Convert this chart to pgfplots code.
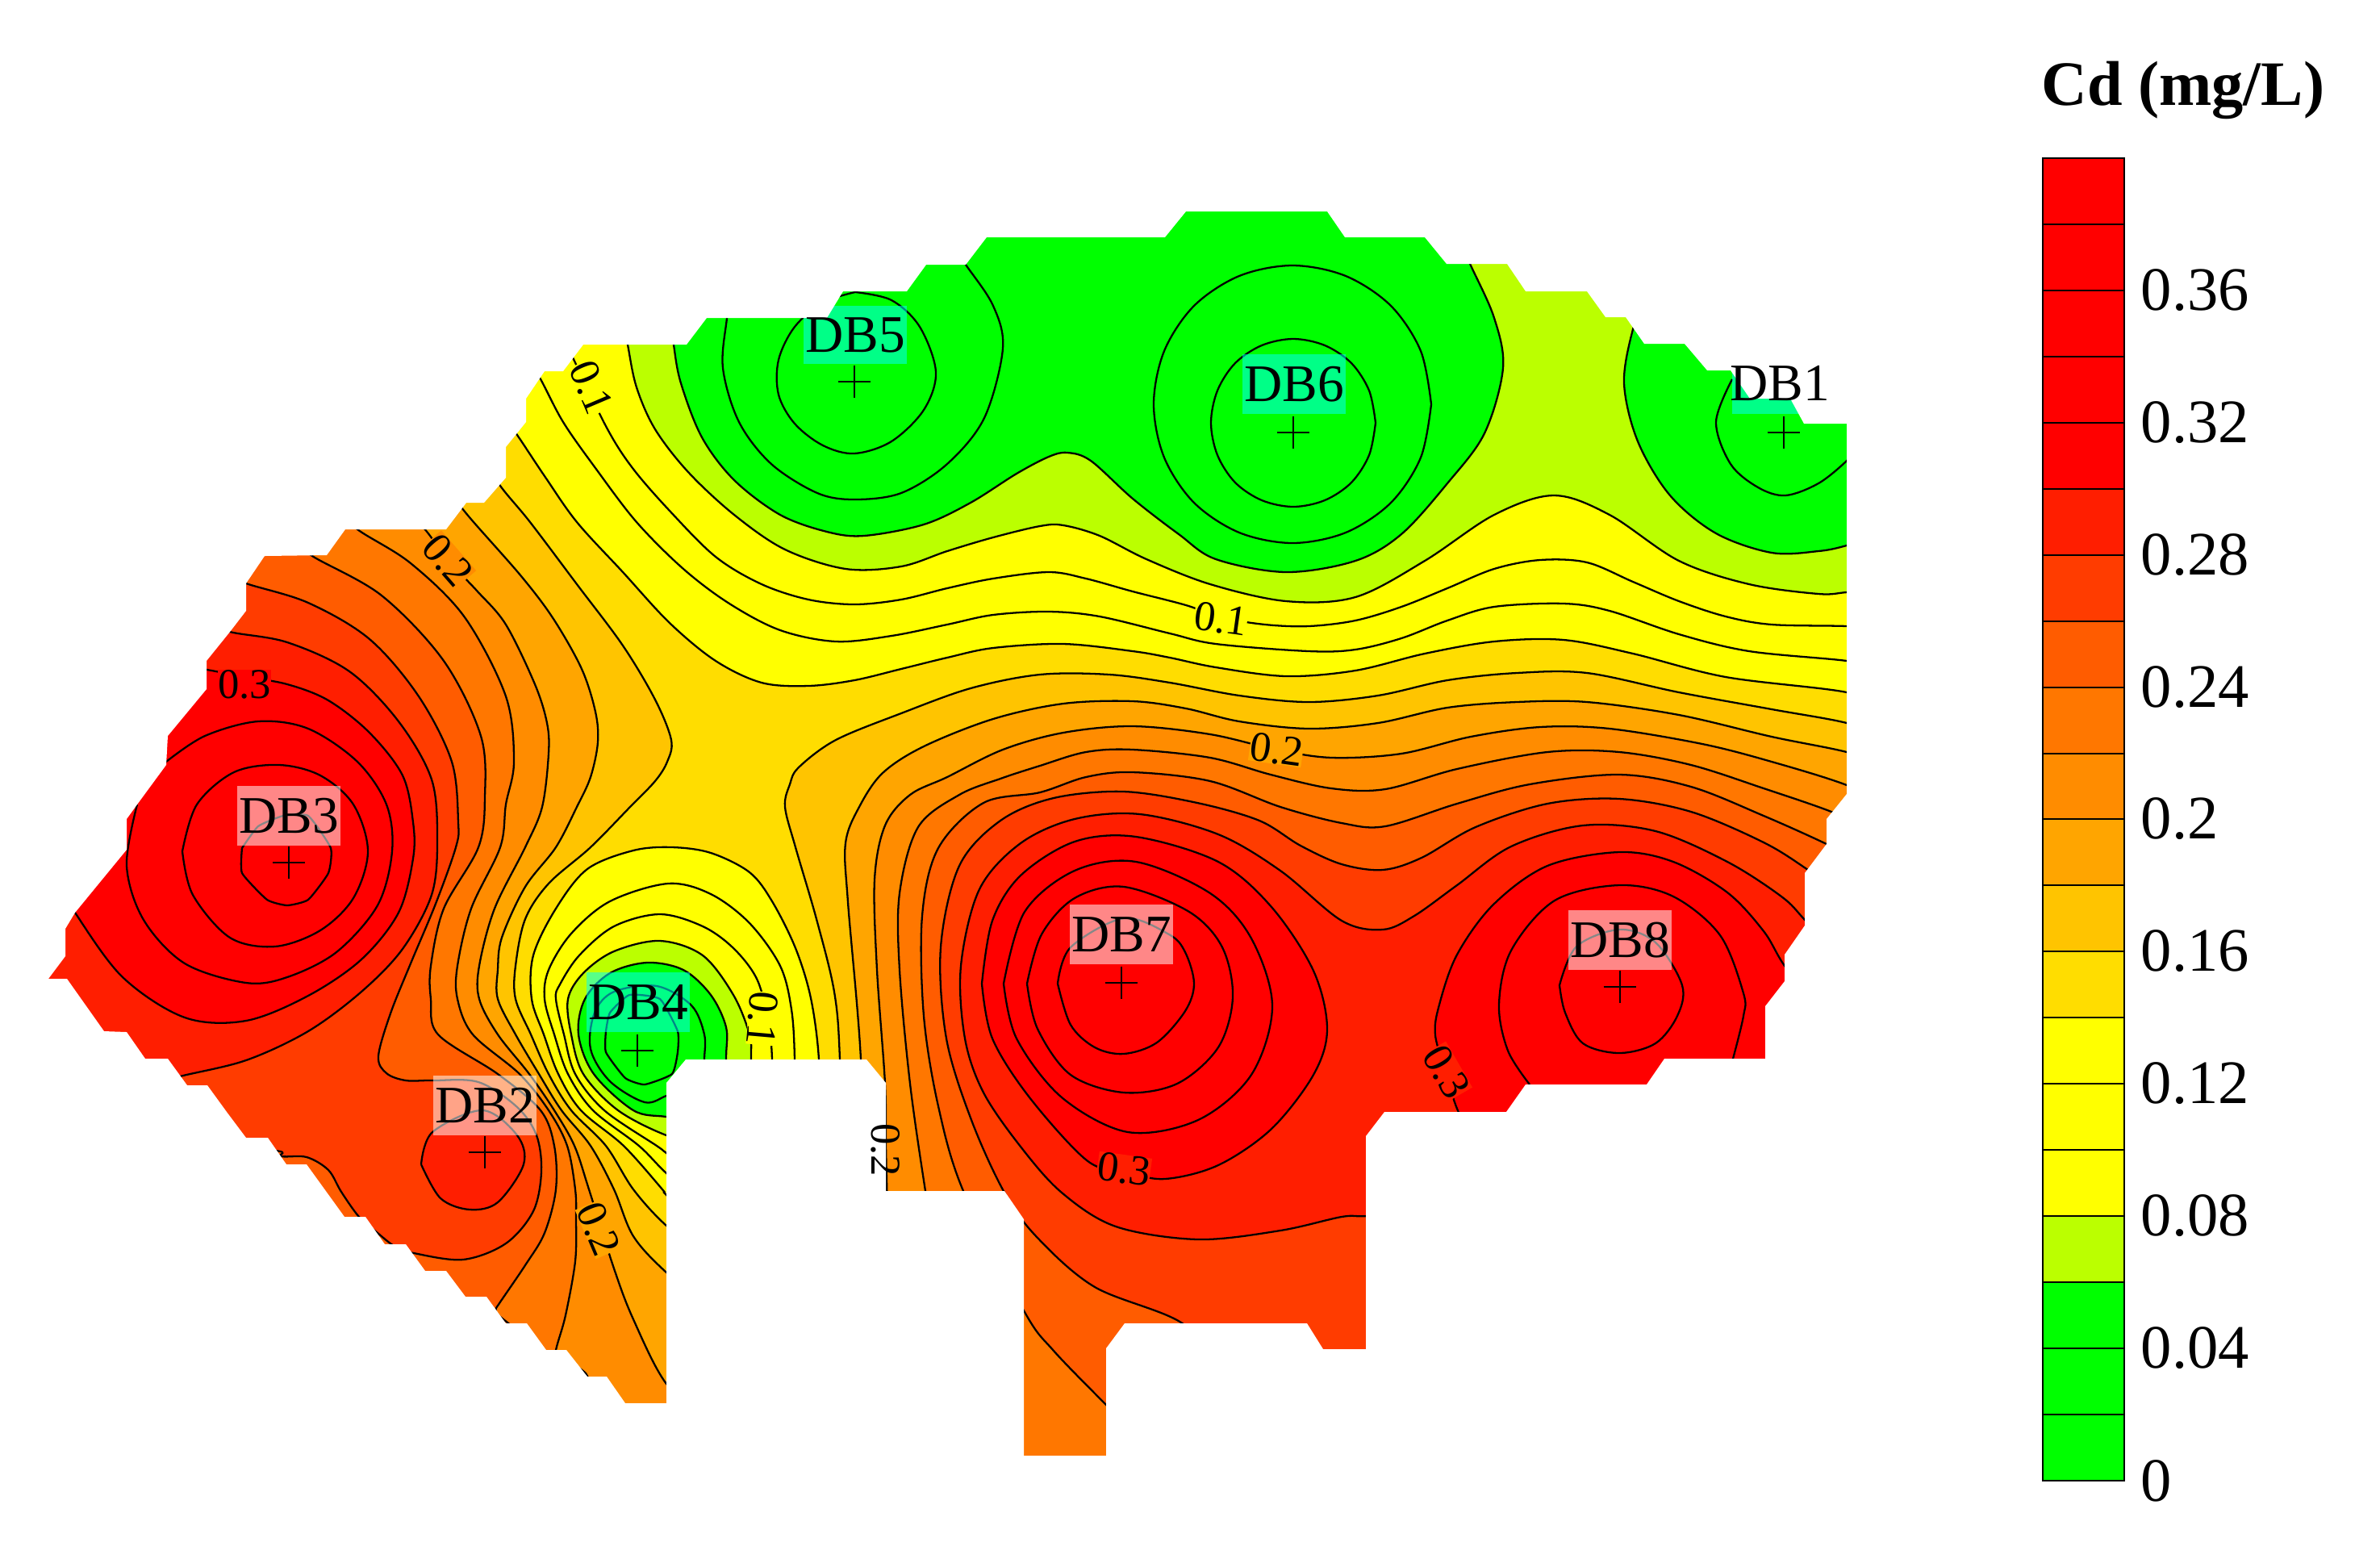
\documentclass[border=0pt]{standalone}
\usepackage{pgfplots}
\pgfplotsset{compat=1.18}
\usepackage{fontspec}
\setmainfont{Liberation Serif}

\definecolor{g0}{HTML}{00FF00}
\definecolor{g1}{HTML}{BBFF00}
\definecolor{y0}{HTML}{FFFF00}
\definecolor{b14}{HTML}{FFDD00}
\definecolor{b16}{HTML}{FFC400}
\definecolor{b18}{HTML}{FFA500}
\definecolor{b20}{HTML}{FF8C00}
\definecolor{b22}{HTML}{FF7700}
\definecolor{b24}{HTML}{FF5C00}
\definecolor{b26}{HTML}{FF3C00}
\definecolor{b28}{HTML}{FF1E00}
\definecolor{b30}{HTML}{FF0000}
\definecolor{boxc}{HTML}{00FFFF}

\tikzset{
  clab/.style={font=\fontsize{15}{15}\selectfont,inner sep=0pt},
  wbox/.style={font=\fontsize{18.6}{18.6}\selectfont,fill=white,fill opacity=.53,text opacity=1,minimum width=36.4pt,minimum height=21pt,inner sep=0pt},
  cbox/.style={wbox,fill=boxc},
  tick/.style={font=\fontsize{21.8}{22}\selectfont,anchor=west,inner sep=0pt}
}

\begin{document}
\begin{tikzpicture}
\begin{axis}[
  scale only axis,width=29.5cm,height=19.1cm,
  xmin=0,xmax=2950,ymin=0,ymax=1910,y dir=reverse,
  hide axis,
  ctr/.style={smooth,tension=.55,draw=black,line width=.65pt,mark=none,line join=round},
  band/.style={fill=#1,draw=black,line width=.65pt,mark=none},
]
% page
\addplot[fill=white,draw=none,mark=none] coordinates {(0,0)(2950,0)(2950,1910)(0,1910)};
\addplot[fill=b14,draw=none,mark=none] coordinates {(0,0)(2480,0)(2480,1850)(0,1850)};

% low side, top of the map
\addplot[ctr,fill=y0] coordinates {(600,480)(641,539)(675,590)(715,647)(772,709)(830,772)(887,819)(944,846)(1002,850)(1059,843)(1117,829)(1174,815)(1231,803)(1318,798)(1404,807)(1450,815)(1507,827)(1594,838)(1680,831)(1766,810)(1852,795)(1938,793)(2024,810)(2139,839)(2289,858)(2340,880)(2340,200)(600,200)(600,480)};
\addplot[ctr,fill=y0] coordinates {(640,420)(669,468)(698,523)(738,580)(789,647)(847,705)(904,748)(967,781)(1036,795)(1105,788)(1174,774)(1231,762)(1300,758)(1363,764)(1450,785)(1507,798)(1622,807)(1680,805)(1737,791)(1794,769)(1852,752)(1938,748)(1995,757)(2081,786)(2168,807)(2289,819)(2340,830)(2340,200)(640,200)(640,420)};
\addplot[ctr,fill=y0] coordinates {(695,410)(709,441)(752,530)(784,580)(830,633)(887,690)(944,724)(1002,743)(1059,749)(1117,743)(1174,729)(1231,717)(1300,709)(1346,717)(1404,733)(1470,750)(1513,765)(1568,774)(1622,776)(1680,769)(1737,752)(1794,729)(1852,705)(1909,694)(1967,697)(2024,721)(2081,745)(2139,764)(2196,774)(2289,776)(2340,780)(2340,200)(695,200)(695,410)};
\addplot[ctr,fill=g1] coordinates {(770,380)(778,427)(789,480)(812,532)(853,585)(910,638)(973,681)(1048,705)(1117,702)(1174,683)(1231,666)(1289,652)(1318,651)(1363,664)(1421,693)(1500,724)(1594,745)(1680,740)(1766,695)(1852,638)(1926,614)(1995,638)(2081,695)(2168,724)(2254,736)(2289,734)(2340,730)(2340,200)(770,200)(770,380)};
\addplot[ctr,fill=g0] coordinates {(830,380)(835,427)(844,475)(870,542)(910,595)(967,638)(1025,659)(1071,664)(1145,650)(1203,623)(1260,587)(1300,566)(1323,561)(1352,571)(1404,618)(1461,662)(1507,693)(1594,709)(1680,695)(1737,662)(1794,599)(1840,537)(1863,456)(1852,394)(1823,329)(1800,280)(1800,200)(830,200)(830,380)};
\addplot[ctr,fill=g0] coordinates {(2040,370)(2024,408)(2013,475)(2030,547)(2070,614)(2127,661)(2196,685)(2254,683)(2289,676)(2340,660)(2340,370)(2040,370)};
\addplot[ctr] coordinates {(905,360)(901,394)(896,456)(916,523)(956,575)(1013,611)(1059,619)(1117,611)(1174,575)(1220,518)(1243,432)(1231,379)(1197,328)(1170,290)};
\addplot[ctr] coordinates {(1060,362)(1105,372)(1140,405)(1160,461)(1145,508)(1105,547)(1059,562)(1020,552)(985,525)(965,489)(965,446)(985,405)(1020,375)(1060,362)};
\addplot[ctr] coordinates {(1774,501)(1761,567)(1724,623)(1668,660)(1602,673)(1536,660)(1480,623)(1443,567)(1430,501)(1443,435)(1480,379)(1536,342)(1602,329)(1668,342)(1724,379)(1761,435)(1774,501)};
\addplot[ctr] coordinates {(1705,524)(1697,564)(1675,598)(1642,620)(1603,628)(1564,620)(1531,598)(1509,564)(1501,524)(1509,484)(1531,450)(1564,428)(1603,420)(1642,428)(1675,450)(1697,484)(1705,524)};
\addplot[ctr] coordinates {(2147,470)(2127,523)(2145,575)(2179,604)(2213,614)(2254,599)(2289,571)(2300,555)};

% low side, DB4
\addplot[ctr,fill=y0] coordinates {(1015,1400)(1015,1313)(1005,1237)(986,1175)(957,1117)(929,1081)(881,1057)(833,1050)(785,1054)(728,1077)(689,1126)(661,1184)(659,1238)(674,1282)(692,1331)(720,1376)(773,1420)(821,1474)(826,1481)(880,1530)(1015,1400)};
\addplot[ctr,fill=y0] coordinates {(985,1400)(985,1313)(981,1251)(967,1197)(929,1144)(881,1108)(828,1095)(756,1117)(708,1157)(680,1202)(675,1238)(687,1282)(704,1331)(735,1376)(792,1420)(826,1454)(880,1500)(985,1400)};
\addplot[ctr,fill=y0] coordinates {(957,1400)(957,1313)(952,1264)(938,1213)(909,1175)(871,1148)(818,1133)(761,1148)(718,1184)(694,1220)(689,1238)(699,1282)(713,1331)(749,1376)(814,1420)(826,1429)(880,1470)(957,1400)};
\addplot[ctr,fill=g1] coordinates {(931,1400)(931,1313)(929,1282)(909,1233)(871,1184)(818,1166)(761,1179)(723,1206)(704,1238)(708,1282)(723,1331)(766,1376)(826,1407)(880,1420)(931,1400)};
\addplot[ctr,fill=g0] coordinates {(900,1400)(900,1313)(900,1273)(881,1233)(847,1202)(802,1193)(756,1206)(725,1238)(717,1282)(736,1331)(785,1376)(826,1384)(880,1390)(900,1400)};
\addplot[ctr] coordinates {(873,1340)(873,1313)(873,1282)(857,1246)(814,1222)(761,1229)(737,1255)(732,1300)(756,1340)(799,1366)(826,1358)(850,1350)};
\addplot[ctr,tension=.3] coordinates {(751,1278)(751,1304)(775,1336)(799,1344)(833,1331)(840,1304)(840,1278)(818,1238)(780,1233)(756,1255)(751,1278)};

% high side, left
\addplot[ctr,fill=b16] coordinates {(590,555)(620,602)(657,647)(715,724)(772,800)(812,867)(832,917)(827,944)(812,968)(781,1000)(732,1050)(680,1095)(651,1139)(639,1197)(639,1238)(658,1282)(680,1331)(708,1376)(751,1420)(785,1474)(826,1519)(880,1560)(880,1850)(0,1850)(0,555)(590,555)};
\addplot[ctr,fill=b18] coordinates {(550,600)(581,640)(646,714)(686,767)(721,829)(738,882)(741,920)(732,963)(715,1000)(689,1050)(651,1099)(622,1162)(617,1202)(617,1238)(639,1282)(668,1331)(696,1376)(732,1420)(761,1474)(785,1532)(826,1577)(880,1620)(880,1850)(0,1850)(0,600)(550,600)};
\addplot[ctr,fill=b20] coordinates {(500,625)(530,660)(555,694)(591,732)(627,774)(663,848)(678,896)(680,934)(672,1000)(651,1050)(613,1126)(594,1197)(594,1238)(617,1282)(656,1331)(687,1376)(712,1420)(730,1474)(761,1572)(785,1635)(826,1715)(880,1760)(880,1850)(0,1850)(0,625)(500,625)};
\addplot[ctr,fill=b22] coordinates {(420,630)(443,656)(509,698)(576,765)(627,863)(637,944)(627,997)(620,1050)(584,1126)(567,1197)(567,1238)(586,1282)(644,1331)(680,1376)(703,1420)(713,1474)(714,1510)(713,1563)(701,1630)(689,1673)(680,1720)(0,1720)(0,630)(420,630)};
\addplot[ctr,fill=b24] coordinates {(370,670)(387,689)(473,738)(550,819)(596,912)(601,988)(593,1050)(550,1126)(534,1197)(534,1238)(543,1282)(617,1331)(670,1376)(687,1420)(689,1474)(675,1528)(651,1568)(615,1621)(590,1660)(0,1660)(0,670)(370,670)};
\addplot[ctr,fill=b26] coordinates {(280,710)(305,723)(382,747)(458,792)(519,863)(560,944)(568,1019)(565,1050)(540,1120)(509,1194)(484,1256)(469,1309)(479,1330)(503,1339)(536,1339)(593,1341)(641,1372)(665,1407)(671,1452)(661,1501)(627,1541)(574,1561)(513,1553)(490,1545)(468,1528)(445,1508)(423,1477)(407,1450)(380,1434)(348,1433)(320,1425)(0,1425)(0,710)(280,710)};
\addplot[ctr,fill=b28] coordinates {(522,1443)(546,1485)(582,1499)(617,1490)(649,1443)(641,1407)(598,1376)(536,1403)(522,1443)};
\addplot[ctr,fill=b28] coordinates {(260,770)(285,783)(356,796)(433,832)(494,894)(535,966)(542,1042)(535,1109)(499,1176)(448,1229)(382,1278)(305,1314)(223,1334)(190,1345)(0,1345)(0,770)(260,770)};
\addplot[ctr,fill=b30] coordinates {(230,825)(300,838)(356,848)(407,868)(458,908)(499,961)(512,1019)(512,1064)(494,1131)(448,1189)(382,1234)(305,1265)(229,1261)(152,1211)(93,1131)(70,1090)(0,1090)(0,825)(230,825)};
\addplot[ctr] coordinates {(170,997)(157,1073)(178,1140)(229,1194)(305,1218)(356,1211)(417,1180)(468,1122)(486,1055)(479,997)(443,944)(382,903)(320,894)(254,912)(206,944)};
\addplot[ctr] coordinates {(226,1055)(244,997)(290,957)(346,948)(397,961)(438,997)(456,1055)(438,1113)(397,1153)(341,1173)(285,1162)(239,1109)(226,1055)};
\addplot[ctr,tension=.3] coordinates {(300,1051)(300,1082)(331,1115)(356,1122)(382,1115)(407,1082)(410,1051)(382,1011)(351,1011)(320,1024)(300,1051)};

% high side, right
\addplot[ctr,fill=b16] coordinates {(1045,1500)(1041,1313)(1034,1229)(1012,1139)(986,1050)(973,1000)(979,972)(990,951)(1036,917)(1117,884)(1203,853)(1289,836)(1375,836)(1450,846)(1536,862)(1622,870)(1708,862)(1794,843)(1880,834)(1967,834)(2081,858)(2196,879)(2289,896)(2340,915)(2340,1850)(1045,1850)(1045,1500)};
\addplot[ctr,fill=b18] coordinates {(1070,1500)(1067,1313)(1051,1118)(1048,1045)(1065,1000)(1094,958)(1145,925)(1231,891)(1318,872)(1404,869)(1470,878)(1536,894)(1622,903)(1708,896)(1794,877)(1880,870)(1967,870)(2081,886)(2196,913)(2289,932)(2340,950)(2340,1850)(1070,1850)(1070,1500)};
\addplot[ctr,fill=b20] coordinates {(1100,1500)(1098,1420)(1097,1343)(1087,1202)(1084,1090)(1097,1023)(1128,985)(1174,963)(1243,929)(1318,908)(1404,900)(1500,910)(1582,929)(1651,939)(1737,934)(1823,913)(1909,901)(1995,903)(2110,922)(2196,944)(2289,973)(2340,1000)(2340,1850)(1100,1850)(1100,1500)};
\addplot[ctr,fill=b22] coordinates {(1160,1550)(1147,1476)(1128,1343)(1115,1202)(1115,1107)(1138,1025)(1189,985)(1240,965)(1289,949)(1346,932)(1404,929)(1500,939)(1575,960)(1650,977)(1717,978)(1806,953)(1918,932)(2007,932)(2096,948)(2186,977)(2270,1006)(2320,1030)(2340,1030)(2340,1850)(1160,1850)(1160,1550)};
\addplot[ctr,fill=b24] coordinates {(1400,1770)(1371,1741)(1306,1674)(1270,1626)(1194,1476)(1163,1371)(1145,1259)(1143,1135)(1163,1051)(1219,995)(1289,982)(1346,963)(1404,957)(1500,968)(1587,1000)(1663,1020)(1717,1024)(1806,996)(1896,972)(2007,960)(2096,975)(2186,1011)(2264,1046)(2320,1075)(2340,1075)(2340,1770)(1400,1770)};
\addplot[ctr,fill=b26] coordinates {(1520,1700)(1464,1639)(1357,1595)(1286,1534)(1245,1478)(1204,1388)(1173,1287)(1166,1174)(1189,1073)(1240,1017)(1306,989)(1393,981)(1484,995)(1561,1017)(1612,1048)(1663,1071)(1714,1078)(1762,1063)(1829,1025)(1918,996)(2007,990)(2096,1006)(2186,1044)(2241,1078)(2300,1120)(2300,1700)(1520,1700)};
\addplot[ctr,fill=b28] coordinates {(1760,1500)(1694,1507)(1663,1508)(1587,1525)(1485,1536)(1383,1520)(1316,1478)(1265,1421)(1219,1354)(1196,1287)(1191,1197)(1214,1102)(1265,1045)(1332,1015)(1413,1009)(1510,1034)(1587,1079)(1663,1141)(1714,1152)(1753,1135)(1806,1097)(1873,1049)(1962,1023)(2052,1030)(2141,1068)(2208,1111)(2237,1140)(2290,1200)(2290,1500)(1760,1500)};
\addplot[ctr,fill=b30] coordinates {(1217,1219)(1230,1287)(1276,1360)(1347,1438)(1393,1452)(1444,1461)(1510,1444)(1576,1399)(1628,1332)(1645,1275)(1628,1203)(1576,1124)(1510,1068)(1408,1037)(1332,1043)(1265,1085)(1230,1141)(1217,1219)};
\addplot[ctr,fill=b30] coordinates {(1830,1420)(1806,1374)(1793,1331)(1779,1283)(1784,1245)(1806,1183)(1851,1121)(1918,1073)(2007,1056)(2074,1068)(2141,1106)(2186,1154)(2212,1197)(2260,1260)(2260,1420)(1830,1420)};
\addplot[ctr] coordinates {(1244,1219)(1260,1287)(1316,1360)(1398,1403)(1485,1388)(1551,1332)(1577,1247)(1551,1163)(1500,1107)(1408,1068)(1332,1079)(1270,1130)(1244,1219)};
\addplot[ctr] coordinates {(1273,1219)(1286,1275)(1327,1332)(1393,1354)(1459,1343)(1510,1298)(1528,1236)(1515,1174)(1474,1130)(1393,1099)(1332,1113)(1291,1158)(1273,1219)};
\addplot[ctr] coordinates {(1311,1219)(1327,1270)(1357,1298)(1393,1306)(1434,1292)(1469,1253)(1480,1219)(1469,1180)(1449,1158)(1393,1138)(1327,1174)(1311,1219)};
\addplot[ctr] coordinates {(1896,1344)(1869,1302)(1858,1245)(1873,1178)(1927,1116)(2007,1097)(2074,1111)(2132,1159)(2161,1231)(2161,1259)(2148,1312)};
\addplot[ctr] coordinates {(1933,1221)(1954,1173)(2007,1152)(2052,1168)(2085,1221)(2079,1259)(2052,1293)(2007,1305)(1962,1293)(1940,1255)(1933,1221)};

% DB1 and DB5 boxes are cut by the outline
\addplot[fill=boxc,fill opacity=.53,draw=none,mark=none] coordinates {(2147,430)(2265,430)(2265,513)(2147,513)};
\addplot[fill=boxc,fill opacity=.53,draw=none,mark=none] coordinates {(996,379)(1124,379)(1124,451)(996,451)};

% outside of the map
\addplot[fill=white,draw=none,mark=none,even odd rule] coordinates {(-50,-50)(2480,-50)(2480,1960)(-50,1960)(-50,-50)
(1470,262)(1645,262)(1667,294)(1766,294)(1793,327)(1868,327)(1891,361)(1967,361)(1990,393)(2015,393)(2038,426)(2088,426)(2116,459)(2145,459)(2169,494)(2219,494)(2236,525)(2289,525)(2289,984)(2264,1015)(2264,1046)(2237,1082)(2237,1147)(2212,1183)(2212,1216)(2188,1247)(2188,1312)(2063,1312)(2041,1344)(1891,1344)(1867,1378)(1716,1378)(1693,1408)(1693,1672)(1640,1672)(1620,1640)(1394,1640)(1371,1671)(1371,1804)(1269,1804)(1269,1511)(1245,1476)(1098,1476)(1098,1342)(1074,1313)(850,1313)(826,1342)(826,1739)(775,1739)(752,1706)(728,1706)(702,1673)(677,1673)(653,1640)(627,1640)(603,1607)(577,1607)(553,1575)(527,1575)(503,1542)(477,1542)(453,1508)(427,1508)(380,1443)(355,1443)(332,1410)(305,1410)(281,1378)(257,1345)(232,1345)(208,1312)(180,1312)(157,1279)(129,1278)(83,1213)(60,1213)(81,1185)(81,1151)(93,1131)(157,1053)(157,1015)(170,997)(206,948)(208,912)(256,854)(256,819)(285,783)(305,757)(305,723)(328,689)(405,688)(428,656)(553,656)(578,623)(600,623)(627,592)(627,554)(652,523)(652,494)(675,460)(698,460)(723,427)(851,427)(876,394)(1025,394)(1045,361)(1124,361)(1148,328)(1197,328)(1223,294)(1444,294)(1470,262)
(-50,-50)};

% colour bar
\addplot[band=g0] coordinates {(2532,1835)(2633,1835)(2633,1753)(2532,1753)} --cycle;
\addplot[band=g0] coordinates {(2532,1753)(2633,1753)(2633,1671)(2532,1671)} --cycle;
\addplot[band=g0] coordinates {(2532,1671)(2633,1671)(2633,1589)(2532,1589)} --cycle;
\addplot[band=g1] coordinates {(2532,1589)(2633,1589)(2633,1507)(2532,1507)} --cycle;
\addplot[band=y0] coordinates {(2532,1507)(2633,1507)(2633,1425)(2532,1425)} --cycle;
\addplot[band=y0] coordinates {(2532,1425)(2633,1425)(2633,1343)(2532,1343)} --cycle;
\addplot[band=y0] coordinates {(2532,1343)(2633,1343)(2633,1261)(2532,1261)} --cycle;
\addplot[band=b14] coordinates {(2532,1261)(2633,1261)(2633,1179)(2532,1179)} --cycle;
\addplot[band=b16] coordinates {(2532,1179)(2633,1179)(2633,1097)(2532,1097)} --cycle;
\addplot[band=b18] coordinates {(2532,1097)(2633,1097)(2633,1015)(2532,1015)} --cycle;
\addplot[band=b20] coordinates {(2532,1015)(2633,1015)(2633,934)(2532,934)} --cycle;
\addplot[band=b22] coordinates {(2532,934)(2633,934)(2633,852)(2532,852)} --cycle;
\addplot[band=b24] coordinates {(2532,852)(2633,852)(2633,770)(2532,770)} --cycle;
\addplot[band=b26] coordinates {(2532,770)(2633,770)(2633,688)(2532,688)} --cycle;
\addplot[band=b28] coordinates {(2532,688)(2633,688)(2633,606)(2532,606)} --cycle;
\addplot[band=b30] coordinates {(2532,606)(2633,606)(2633,524)(2532,524)} --cycle;
\addplot[band=b30] coordinates {(2532,524)(2633,524)(2633,442)(2532,442)} --cycle;
\addplot[band=b30] coordinates {(2532,442)(2633,442)(2633,360)(2532,360)} --cycle;
\addplot[band=b30] coordinates {(2532,360)(2633,360)(2633,278)(2532,278)} --cycle;
\addplot[band=b30] coordinates {(2532,278)(2633,278)(2633,196)(2532,196)} --cycle;

% sampling points
\addplot[only marks,mark=+,mark size=5.8pt,mark options={line width=.65pt,draw=black}] coordinates {(2211,536)(601,1428)(358,1069)(790,1302)(1059,473)(1603,536)(1390,1218)(2008,1223)};

% contour labels
\node[clab,fill=y0,rotate=-67] at (axis cs:733,480) {0.1};
\node[clab,fill=b20,rotate=-49] at (axis cs:555,694) {0.2};
\node[clab,fill=b30] at (axis cs:303,848) {0.3};
\node[clab,fill=b18,rotate=-67] at (axis cs:742,1523) {0.2};
\node[clab,fill=y0,rotate=-95] at (axis cs:945,1262) {0.1};
\node[clab,rotate=-90] at (axis cs:1098,1425) {0.2};
\node[clab,fill=y0,rotate=-8] at (axis cs:1513,767) {0.1};
\node[clab,fill=b18,rotate=-8] at (axis cs:1582,929) {0.2};
\node[clab,fill=b28,rotate=-8] at (axis cs:1393,1449) {0.3};
\node[clab,fill=b28,rotate=-60] at (axis cs:1793,1328) {0.3};

% station labels
\node[font=\fontsize{18.6}{18.6}\selectfont,inner sep=0pt] at (axis cs:2206,475) {DB1};
\node[wbox] at (axis cs:601,1370) {DB2};
\node[wbox] at (axis cs:358,1011) {DB3};
\node[cbox] at (axis cs:791,1242) {DB4};
\node[font=\fontsize{18.6}{18.6}\selectfont,inner sep=0pt] at (axis cs:1060,415) {DB5};
\node[cbox] at (axis cs:1604,476) {DB6};
\node[wbox] at (axis cs:1390,1158) {DB7};
\node[wbox] at (axis cs:2008,1165) {DB8};

% colour bar text
\node[font=\fontsize{22.3}{22}\selectfont\bfseries,anchor=west,inner sep=0pt] at (axis cs:2530,112) {Cd (mg/L)};
\node[tick] at (axis cs:2653,360) {0.36};
\node[tick] at (axis cs:2653,524) {0.32};
\node[tick] at (axis cs:2653,688) {0.28};
\node[tick] at (axis cs:2653,852) {0.24};
\node[tick] at (axis cs:2653,1015) {0.2};
\node[tick] at (axis cs:2653,1179) {0.16};
\node[tick] at (axis cs:2653,1343) {0.12};
\node[tick] at (axis cs:2653,1507) {0.08};
\node[tick] at (axis cs:2653,1671) {0.04};
\node[tick] at (axis cs:2653,1835) {0};
\end{axis}
\end{tikzpicture}
\end{document}
